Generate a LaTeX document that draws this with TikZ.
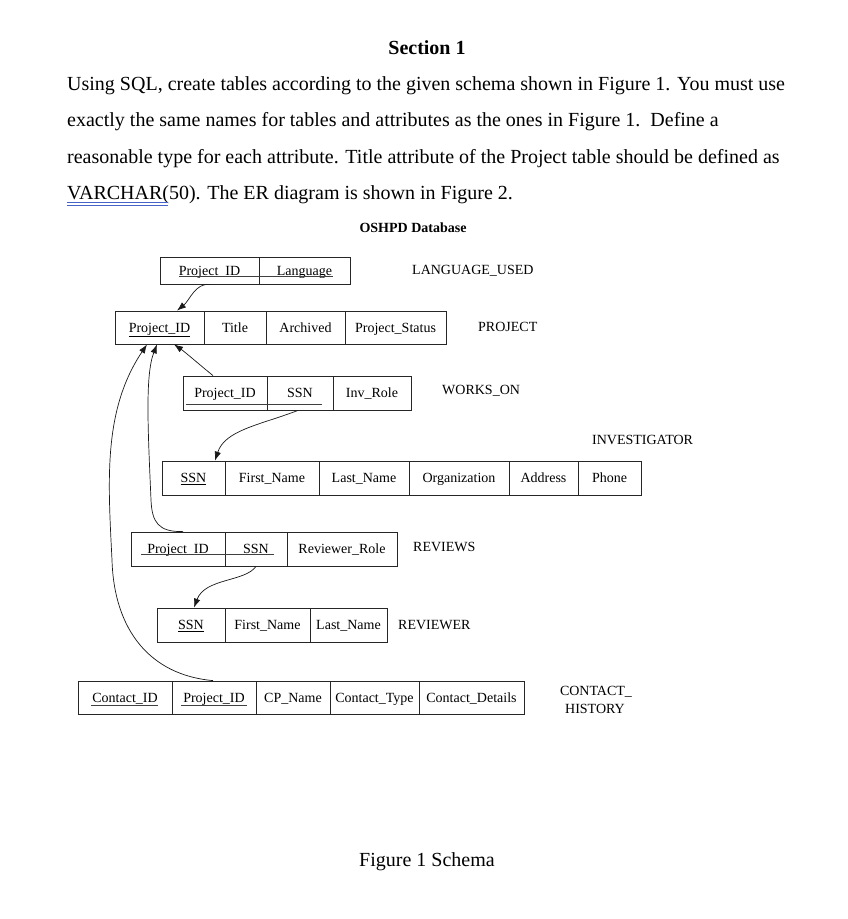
\documentclass[tikz,border=0pt]{standalone}
\usepackage{fontspec}
\setmainfont{Liberation Serif}
\usetikzlibrary{arrows.meta}
\newcommand\mybody{\fontsize{20}{23}\selectfont}
\newcommand\mycell{\fontsize{14}{16}\selectfont}
\definecolor{gramblue}{RGB}{70,100,200}
\tikzset{
  cell/.style={draw=black!85, line width=0.8pt, inner sep=0pt, text height=9.3pt, text depth=0pt, font=\mycell},
  lbl/.style={anchor=west, inner sep=0pt, text height=9.3pt, text depth=0pt, font=\mycell},
  bodyline/.style={anchor=base west, inner sep=0pt, font=\mybody},
  fk/.style={-{Latex[length=9pt,width=6.5pt]}, line width=0.7pt, black!90},
  uline/.style={line width=0.8pt, black!75},
}
\begin{document}
\begin{tikzpicture}[x=1pt,y=-1pt]
\useasboundingbox[fill=white] (0,0) rectangle (847,919);

% heading text
\node[anchor=base, inner sep=0pt, font=\mybody\bfseries] (sec) at (427,54.5) {Section 1};
\node[bodyline] (l1) at (67,90) {Using SQL, create tables according to the given schema shown in Figure 1. You must use};
\node[bodyline] (l2) at (67,126.5) {exactly the same names for tables and attributes as the ones in Figure 1.\ \ Define a};
\node[bodyline] (l3) at (67,163) {reasonable type for each attribute. Title attribute of the Project table should be defined as};
\node[bodyline] (l4) at (67,199) {VARCHAR(50). The ER diagram is shown in Figure 2.};
\draw[gramblue, line width=0.6pt] (67,202.5) -- (168,202.5);
\draw[gramblue, line width=0.6pt] (67,205) -- (168,205);

\node[anchor=base, inner sep=0pt, font=\mycell\bfseries] (title) at (413,232.5) {OSHPD Database};

% LANGUAGE_USED
\node[cell, minimum width=99pt, minimum height=27pt] (lu1) at (209.5,270.5) {Project\_ID};
\node[cell, minimum width=91pt, minimum height=27pt] (lu2) at (304.5,270.5) {Language};
\draw[uline] (179,276.5) -- (333,276.5);
\node[lbl] (lulbl) at (412,270) {LANGUAGE\_USED};

% PROJECT
\node[cell, minimum width=89pt, minimum height=33pt] (p1) at (159.5,327.5) {\underline{Project\_ID}};
\node[cell, minimum width=62pt, minimum height=33pt] (p2) at (235,327.5) {Title};
\node[cell, minimum width=79pt, minimum height=33pt] (p3) at (305.5,327.5) {Archived};
\node[cell, minimum width=101pt, minimum height=33pt] (p4) at (395.5,327.5) {Project\_Status};
\node[lbl] (plbl) at (478,327) {PROJECT};

% WORKS_ON
\node[cell, minimum width=84pt, minimum height=34pt] (wo1) at (225,393) {Project\_ID};
\node[cell, minimum width=66pt, minimum height=34pt] (wo2) at (300,393) {SSN};
\node[cell, minimum width=78pt, minimum height=34pt] (wo3) at (372,393) {Inv\_Role};
\draw[uline] (186,404.5) -- (322,404.5);
\node[lbl] (wolbl) at (442,390) {WORKS\_ON};

% INVESTIGATOR
\node[lbl] (ivlbl) at (592,440) {INVESTIGATOR};
\node[cell, minimum width=63pt, minimum height=34pt] (iv1) at (193.5,478) {\underline{SSN}};
\node[cell, minimum width=94pt, minimum height=34pt] (iv2) at (272,478) {First\_Name};
\node[cell, minimum width=90pt, minimum height=34pt] (iv3) at (364,478) {Last\_Name};
\node[cell, minimum width=100pt, minimum height=34pt] (iv4) at (459,478) {Organization};
\node[cell, minimum width=69pt, minimum height=34pt] (iv5) at (543.5,478) {Address};
\node[cell, minimum width=63pt, minimum height=34pt] (iv6) at (609.5,478) {Phone};

% REVIEWS
\node[cell, minimum width=94pt, minimum height=34pt] (rv1) at (178,549) {Project\_ID};
\node[cell, minimum width=62pt, minimum height=34pt] (rv2) at (256,549) {SSN};
\node[cell, minimum width=110pt, minimum height=34pt] (rv3) at (342,549) {Reviewer\_Role};
\draw[uline] (141,554.5) -- (274,554.5);
\node[lbl] (rvlbl) at (413,547) {REVIEWS};

% REVIEWER
\node[cell, minimum width=68pt, minimum height=34pt] (rw1) at (191,625) {\underline{SSN}};
\node[cell, minimum width=85pt, minimum height=34pt] (rw2) at (267.5,625) {First\_Name};
\node[cell, minimum width=77pt, minimum height=34pt] (rw3) at (348.5,625) {Last\_Name};
\node[lbl] (rwlbl) at (398,625) {REVIEWER};

% CONTACT_HISTORY
\node[cell, minimum width=94pt, minimum height=33pt] (ch1) at (125,697.5) {Contact\_ID};
\node[cell, minimum width=84pt, minimum height=33pt] (ch2) at (214,697.5) {Project\_ID};
\node[cell, minimum width=74pt, minimum height=33pt] (ch3) at (293,697.5) {CP\_Name};
\node[cell, minimum width=89pt, minimum height=33pt] (ch4) at (374.5,697.5) {Contact\_Type};
\node[cell, minimum width=105pt, minimum height=33pt] (ch5) at (471.5,697.5) {Contact\_Details};
\draw[uline] (91,705) -- (158,705);
\draw[uline] (181,705) -- (247,705);
\node[lbl, anchor=center] (chlbl1) at (596,691) {CONTACT\_};
\node[lbl, anchor=center] (chlbl2) at (595,709) {HISTORY};

% foreign keys
\draw[fk] ([xshift=0.5pt]lu1.south) .. controls (195,283) and (190,300) .. ([xshift=17.5pt]p1.north);
\draw[fk] ([xshift=-12pt]wo1.north) .. controls (200,365) and (185,352) .. ([xshift=14.5pt]p1.south);
\draw[fk] ([xshift=5pt]rv1.north) .. controls (158,532) and (152,522) .. (151,500) .. controls (148,430) and (145,375) .. ([xshift=-2.5pt]p1.south);
\draw[fk] ([xshift=-1pt]ch2.north) .. controls (150,675) and (114,630) .. (112,560) .. controls (108,480) and (103,410) .. ([xshift=-12.5pt]p1.south);
\draw[fk] ([xshift=-2pt]wo2.south) .. controls (260,425) and (225,430) .. ([xshift=21.5pt]iv1.north);
\draw[fk] ([xshift=0pt]rv2.south) .. controls (245,582) and (205,578) .. ([xshift=3pt]rw1.north);

\node[anchor=base, inner sep=0pt, font=\mybody] (cap) at (427,866.5) {Figure 1 Schema};
\end{tikzpicture}
\end{document}
